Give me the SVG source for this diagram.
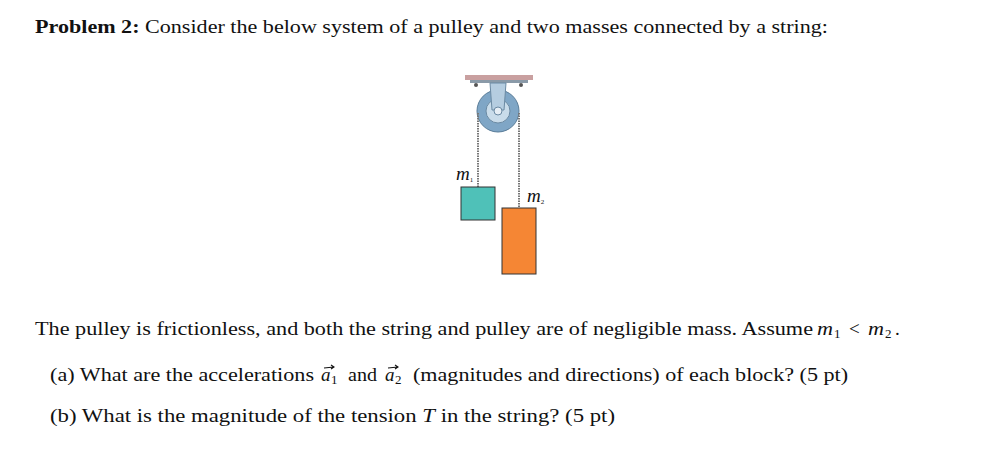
<svg xmlns="http://www.w3.org/2000/svg" width="987" height="452" viewBox="0 0 987 452">
<style>
text{font-family:"Liberation Serif","DejaVu Serif",serif;font-size:19px;fill:#111}
.m{font-style:italic}
.s{font-size:13px}
.rope{stroke:#777;stroke-width:2;stroke-dasharray:1.5 1}
.ar{stroke:#111;stroke-width:1.1;fill:none}
</style>
<rect width="987" height="452" fill="#fff"/>
<text x="35" y="33" textLength="793" lengthAdjust="spacingAndGlyphs"><tspan font-weight="bold">Problem 2:</tspan> Consider the below system of a pulley and two masses connected by a string:</text>
<g id="ceiling"><rect x="465" y="75" width="68" height="5" fill="#c9a0a0"/><rect x="470" y="80" width="58" height="3" fill="#8a9aa8"/><circle cx="476" cy="85" r="2" fill="#555"/><circle cx="521" cy="85" r="2" fill="#555"/></g>
<g id="pulley">
<circle cx="498" cy="111" r="21" fill="#7fa6c6" stroke="#5a7d99"/>
<circle cx="498" cy="111" r="12" fill="#c9dcea" stroke="#6b8aa3"/>
<path d="M490 83 L506 83 L504 110 L492 110 Z" fill="#b5cde0" stroke="#6b8aa3"/>
<circle cx="498" cy="111" r="4" fill="#e6eef5" stroke="#6b8aa3"/>
</g>
<g id="connectors">
<line class="rope" x1="478" y1="113" x2="478" y2="187"/>
<line class="rope" x1="519" y1="113" x2="519" y2="208"/>
</g>
<g id="m1"><rect x="461" y="187" width="34" height="33" fill="#4fc1b8" stroke="#333"/><text x="456" y="180" class="m" font-size="10" fill="#556">m<tspan font-size="7" font-style="normal" dy="2">1</tspan></text></g>
<g id="m2"><rect x="502" y="208" width="34" height="66" fill="#f58634" stroke="#333"/><text x="527" y="202" class="m" font-size="10" fill="#556">m<tspan font-size="7" font-style="normal" dy="2">2</tspan></text></g>
<text x="35" y="335" textLength="778" lengthAdjust="spacingAndGlyphs">The pulley is frictionless, and both the string and pulley are of negligible mass. Assume</text>
<text x="817" y="335" class="m" textLength="16" lengthAdjust="spacingAndGlyphs">m</text><text x="834" y="338" class="s">1</text>
<text x="849" y="335">&lt;</text>
<text x="868" y="335" class="m" textLength="16" lengthAdjust="spacingAndGlyphs">m</text><text x="885" y="338" class="s">2</text><text x="895" y="335">.</text>
<text x="50" y="381" textLength="264" lengthAdjust="spacingAndGlyphs">(a) What are the accelerations</text>
<text x="321" y="381" class="m">a</text><text x="331" y="384" class="s">1</text>
<text x="348" y="381" textLength="29" lengthAdjust="spacingAndGlyphs">and</text>
<text x="385" y="381" class="m">a</text><text x="395" y="384" class="s">2</text>
<text x="413" y="381" textLength="435" lengthAdjust="spacingAndGlyphs">(magnitudes and directions) of each block? (5 pt)</text>
<path class="ar" d="M324 368 L334 367 M331 365 L334 367 L331 369"/>
<path class="ar" d="M388 368 L398 367 M395 365 L398 367 L395 369"/>
<text x="50" y="422" textLength="565" lengthAdjust="spacingAndGlyphs">(b) What is the magnitude of the tension <tspan class="m">T</tspan> in the string? (5 pt)</text>
</svg>
